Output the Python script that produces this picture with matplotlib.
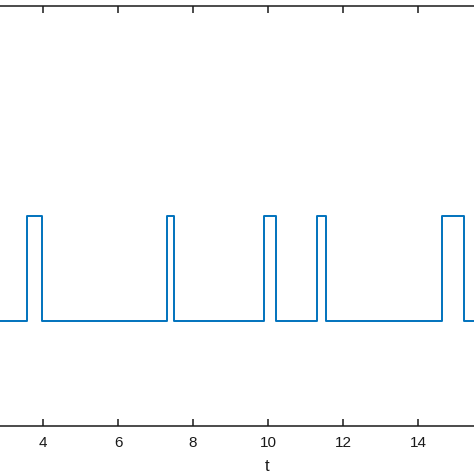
import numpy as np
import matplotlib
matplotlib.use("Agg")
import matplotlib.pyplot as plt

# switching instants (t) and the level after each one
t_switch = [0.0, 3.56, 3.96, 7.30, 7.48, 9.90, 10.22, 11.30, 11.54, 14.63, 15.23, 16.0]
level = [0, 1, 0, 1, 0, 1, 0, 1, 0, 1, 0, 0]
xticks = [4, 6, 8, 10, 12, 14]

plt.rcParams["font.family"] = ["Liberation Sans", "DejaVu Sans"]

fig = plt.figure(figsize=(4.74, 4.74), dpi=100)
ax = fig.add_axes([0.0, 0.1013, 1.0, 0.885])

ax.plot(t_switch, level, drawstyle="steps-post", color="#0072BD", linewidth=1.4)

ax.set_xlim(2.853, 15.49)
ax.set_ylim(-1, 3)
ax.set_xticks(xticks)
ax.set_yticks([])
for side in ["left", "right"]:
    ax.spines[side].set_visible(False)
for side in ["top", "bottom"]:
    ax.spines[side].set_linewidth(1.1)
    ax.spines[side].set_color("#1a1a1a")
ax.tick_params(axis="x", direction="in", length=5, width=1.1, top=True,
               labelsize=11, pad=7, colors="#1a1a1a")
ax.set_xlabel("t", fontsize=12, color="#1a1a1a")
ax.xaxis.set_label_coords(0.563, -0.078)

fig.savefig("out.png", dpi=100)
